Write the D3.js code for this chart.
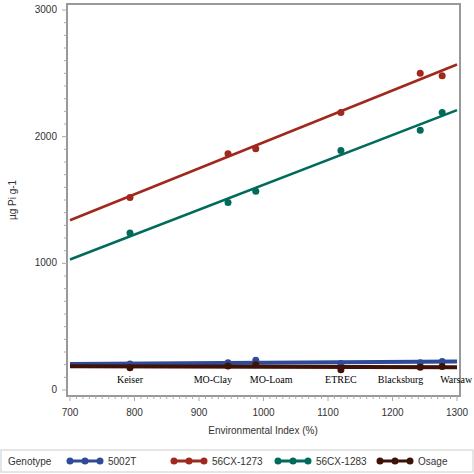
<!DOCTYPE html><html><head><script src="https://cdn.jsdelivr.net/npm/d3@7"></script>
<style>body{margin:0;background:#fff}</style></head><body><svg id="c" width="474" height="474"></svg><script>
const envIndex=[793,945,988,1120,1243,1277];
const sites=["Keiser","MO-Clay","MO-Loam","ETREC","Blacksburg","Warsaw"];
const genotypes=["5002T","56CX-1273","56CX-1283","Osage"];
const colors=["#2e4a99","#a0281c","#006b5a","#3f1208"];
const v5002T=[205,215,235,210,215,225];
const v1273=[1520,1865,1905,2190,2500,2480];
const v1283=[1240,1480,1570,1890,2050,2190];
const vOsage=[175,190,200,160,180,185];
const fitStart=[205,1340,1030,188];
const fitEnd=[225,2570,2210,180];
const xTicks=[700,800,900,1000,1100,1200,1300];
const yTicks=[0,1000,2000,3000];
const series=[v5002T,v1273,v1283,vOsage];
const labelAnchor=["middle","end","start","middle","end","start"];
const labelShift=[0,4,-6,0,3,-2];
const svg=d3.select("#c");
const x=d3.scaleLinear().domain([700,1300]).range([70,457]);
const y=d3.scaleLinear().domain([0,3000]).range([390,10]);
svg.append("rect").attr("x",67).attr("y",4).attr("width",393).attr("height",392).attr("fill","#fff").attr("stroke","#999").attr("stroke-width",2);
const ff="Liberation Sans, Arial, sans-serif";
d3.range(700,1301,10).forEach(t=>svg.append("line").attr("x1",x(t)).attr("x2",x(t)).attr("y1",396).attr("y2",t%100?399:401).attr("stroke","#aaa"));
d3.range(0,3001,100).forEach(t=>svg.append("line").attr("y1",y(t)).attr("y2",y(t)).attr("x1",67).attr("x2",t%1000?64:62).attr("stroke","#aaa"));
xTicks.forEach(t=>svg.append("text").attr("x",x(t)).attr("y",416).attr("text-anchor","middle").attr("font-family",ff).attr("font-size",10).attr("fill","#333").text(t));
yTicks.forEach(t=>svg.append("text").attr("x",57).attr("y",y(t)+3).attr("text-anchor","end").attr("font-family",ff).attr("font-size",10).attr("fill","#333").text(t));
svg.append("text").attr("x",263).attr("y",434).attr("text-anchor","middle").attr("font-family",ff).attr("font-size",10).attr("fill","#333").text("Environmental Index (%)");
svg.append("text").attr("transform","translate(16,200) rotate(-90)").attr("text-anchor","middle").attr("font-family",ff).attr("font-size",10).attr("fill","#333").text("µg Pi g-1");
series.forEach((s,i)=>{
 svg.append("line").attr("x1",x(700)).attr("x2",x(1300)).attr("y1",y(fitStart[i])).attr("y2",y(fitEnd[i])).attr("stroke",colors[i]).attr("stroke-width",i==0||i==3?4:2.5);
 s.forEach((v,j)=>svg.append("circle").attr("cx",x(envIndex[j])).attr("cy",y(v)).attr("r",3.5).attr("fill",colors[i]));
});
sites.forEach((s,j)=>svg.append("text").attr("x",x(envIndex[j])+labelShift[j]).attr("y",383).attr("text-anchor",labelAnchor[j]).attr("font-family","Liberation Serif, serif").attr("font-size",10).text(s));
svg.append("rect").attr("x",1).attr("y",450).attr("width",472).attr("height",22).attr("fill","#fff").attr("stroke","#ccc");
svg.append("text").attr("x",8).attr("y",465).attr("font-family",ff).attr("font-size",10).attr("fill","#333").text("Genotype");
const lx=[70,174,278,380];
genotypes.forEach((g,i)=>{
 svg.append("line").attr("x1",lx[i]).attr("x2",lx[i]+30).attr("y1",461).attr("y2",461).attr("stroke",colors[i]).attr("stroke-width",3);
 [0,15,30].forEach(d=>svg.append("circle").attr("cx",lx[i]+d).attr("cy",461).attr("r",3.5).attr("fill",colors[i]));
 svg.append("text").attr("x",lx[i]+38).attr("y",465).attr("font-family",ff).attr("font-size",10).attr("fill","#333").text(g);
});
</script></body></html>
